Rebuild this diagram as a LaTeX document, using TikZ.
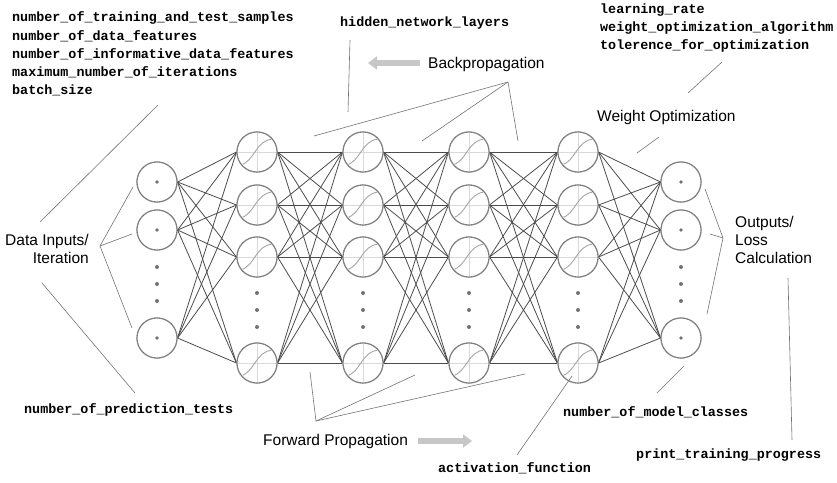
\documentclass[tikz,border=0pt]{standalone}
\usepackage{fontspec}
\usetikzlibrary{arrows.meta}
\setmainfont{Liberation Sans}
\newfontfamily\monof{Liberation Mono}
\begin{document}
\begin{tikzpicture}[x=1pt,y=-1pt,
  neuron/.style={circle,draw=black!50,line width=1.1pt,minimum size=40pt,inner sep=0pt,fill=white},
  edge/.style={draw=black!70,line width=0.8pt},
  ptr/.style={draw=black!55,line width=0.6pt},
  mono/.style={font=\monof\bfseries\fontsize{13.4}{18}\selectfont,anchor=west,inner sep=0pt},
  sans/.style={font=\fontsize{15.5}{18}\selectfont,inner sep=0pt},
  dotc/.style={fill=black!55,draw=none}]
\useasboundingbox (0,0) rectangle (837,482);
% layers
\def\ys{182/1,230/2,338/3}
\def\hy{152/1,205/2,257/3,363/4}
\foreach \y/\i in \ys {\node[neuron] (in\i) at (157,\y) {}; \node[neuron] (out\i) at (681,\y) {};}
\foreach \x/\l in {257/a,363/b,469/c,578/d} {
  \foreach \y/\i in \hy {\node[neuron] (\l\i) at (\x,\y) {};}
}
% edges
\foreach \i in {1,2,3}{\foreach \j in {1,2,3,4}{\draw[edge] (in\i.east) -- (a\j.west); \draw[edge] (d\j.east) -- (out\i.west);}}
\foreach \p/\q in {a/b,b/c,c/d}{\foreach \i in {1,2,3,4}{\foreach \j in {1,2,3,4}{\draw[edge] (\p\i.east) -- (\q\j.west);}}}
% redraw neurons on top with contents
\foreach \y/\i in \ys {
  \node[neuron] at (157,\y) {}; \fill[dotc] (157,\y) circle (1.8pt);
  \node[neuron] at (681,\y) {}; \fill[dotc] (681,\y) circle (1.8pt);}
\foreach \x in {257,363,469,578}{\foreach \y in {152,205,257,363}{
  \node[neuron] at (\x,\y) {};
  \begin{scope}
  \clip (\x,\y) circle (19pt);
  \draw[black!15,line width=0.6pt] (\x-20,\y) -- (\x+20,\y) (\x,\y-20) -- (\x,\y+20);
  \draw[black!35,line width=0.9pt] (\x-17,\y+13) .. controls (\x-2,\y+10) and (\x-2,\y-12) .. (\x+16,\y-13);
  \end{scope}}
  \foreach \d in {293,310,327}{\fill[dotc] (\x,\d) circle (2pt);}}
\foreach \d in {267,284,301}{\fill[dotc] (157,\d) circle (2pt); \fill[dotc] (681,\d) circle (2pt);}
% texts
\node[mono] (t1) at (12,18) {number\_of\_training\_and\_test\_samples};
\node[mono] (t2) at (12,36) {number\_of\_data\_features};
\node[mono] (t3) at (12,54) {number\_of\_informative\_data\_features};
\node[mono] (t4) at (12,72) {maximum\_number\_of\_iterations};
\node[mono] (t5) at (12,90) {batch\_size};
\node[mono] (hnl) at (340,23) {hidden\_network\_layers};
\node[mono] (lr) at (600,10) {learning\_rate};
\node[mono] (woa) at (600,28) {weight\_optimization\_algorithm};
\node[mono] (tol) at (600,46) {tolerence\_for\_optimization};
\node[sans,anchor=west] (bp) at (428,64) {Backpropagation};
\node[sans,anchor=west] (wo) at (597,117) {Weight Optimization};
\node[sans,align=right,anchor=east] (di) at (89,249) {Data Inputs/\\Iteration};
\node[sans,align=left,anchor=west] (ol) at (735,240) {Outputs/\\Loss\\Calculation};
\node[mono] (npt) at (24,410) {number\_of\_prediction\_tests};
\node[sans,anchor=west] (fp) at (263,441) {Forward Propagation};
\node[mono] (af) at (438,468) {activation\_function};
\node[mono] (nmc) at (563,412) {number\_of\_model\_classes};
\node[mono] (ptp) at (636,455) {print\_training\_progress};
% arrows
\draw[black!22,line width=6pt,-{Triangle[length=9pt,width=13pt]}] (420,63) -- (368,63);
\draw[black!22,line width=6pt,-{Triangle[length=9pt,width=13pt]}] (418,441) -- (472,441);
% pointer lines
\coordinate (c1) at (100,246); \coordinate (c2) at (508,82); \coordinate (c3) at (316,421); \coordinate (c4) at (723,238);
\draw[ptr] (158,105) -- (40,222);
\draw[ptr] (42,283) -- (135,393);
\draw[ptr] (133,187) -- (c1) -- (132,328); \draw[ptr] (c1) -- (132,234);
\draw[ptr] (350,40) -- (348,112);
\draw[ptr] (314,136) -- (c2) -- (518,141); \draw[ptr] (c2) -- (422,141);
\draw[ptr] (310,372) -- (c3) -- (525,374); \draw[ptr] (c3) -- (415,375);
\draw[ptr] (517,455) -- (572,376);
\draw[ptr] (637,153) -- (659,137);
\draw[ptr] (657,393) -- (684,366);
\draw[ptr] (705,189) -- (c4) -- (707,314); \draw[ptr] (c4) -- (710,234);
\draw[ptr] (788,278) -- (792,440);
\draw[ptr] (722,62) -- (688,93);
\end{tikzpicture}
\end{document}
